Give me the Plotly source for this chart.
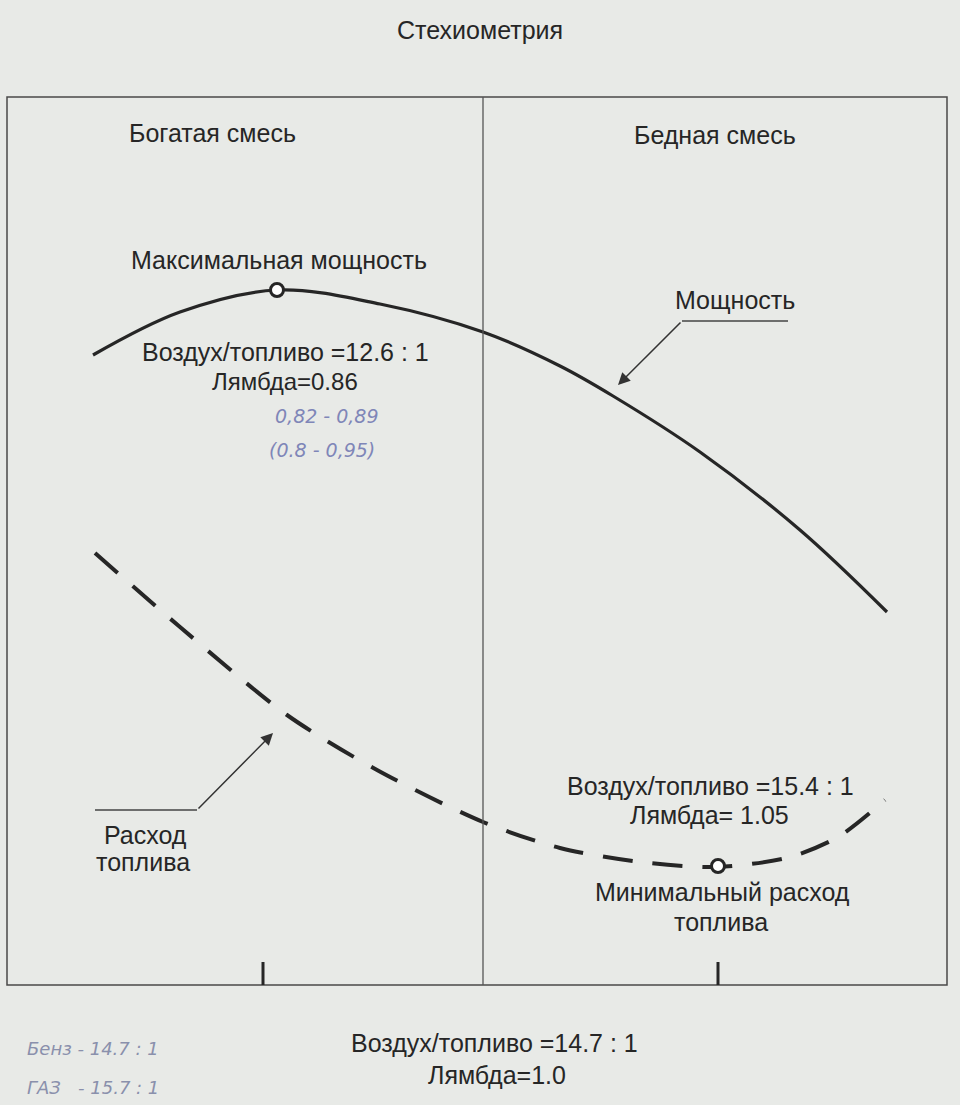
import plotly.graph_objects as go

# Diagram coordinates (schematic units; x grows to leaner mixture, y grows downward)
power_x = [93, 180, 277, 380, 483, 560, 613, 700, 800, 887]
power_y = [355, 312, 290, 304, 332, 366, 396, 452, 530, 612]

fuel_x = [95, 180, 287, 377, 483, 560, 640, 718, 790, 838, 885]
fuel_y = [553, 627, 715, 770, 822, 848, 862, 867, 857, 837, 800]

max_power_pt = (277, 290)
min_fuel_pt = (718, 866)

stoich_x = 483
tick_x = [263, 718]

box = dict(x0=7, x1=947, y0=97, y1=985)

INK = "#262626"
BG = "#e8eae7"
PEN = "#7f86b8"
PEN2 = "#8a90ac"

fig = go.Figure()

fig.add_trace(go.Scatter(x=power_x, y=power_y, mode="lines",
                         line=dict(color=INK, width=3.2, shape="spline", smoothing=1.0),
                         hoverinfo="skip", showlegend=False))
fig.add_trace(go.Scatter(x=fuel_x, y=fuel_y, mode="lines",
                         line=dict(color=INK, width=4, shape="spline", smoothing=0.8, dash="30px,20px"),
                         hoverinfo="skip", showlegend=False))
fig.add_trace(go.Scatter(x=[max_power_pt[0], min_fuel_pt[0]], y=[max_power_pt[1], min_fuel_pt[1]],
                         mode="markers",
                         marker=dict(size=13, color="white", line=dict(color=INK, width=3)),
                         hoverinfo="skip", showlegend=False))

# leader lines (horizontal parts)
fig.add_trace(go.Scatter(x=[682, 788], y=[321, 321], mode="lines", line=dict(color="#444", width=1.5),
                         hoverinfo="skip", showlegend=False))
fig.add_trace(go.Scatter(x=[95, 197], y=[810, 810], mode="lines", line=dict(color="#444", width=1.5),
                         hoverinfo="skip", showlegend=False))

shapes = [
    dict(type="rect", xref="x", yref="y", x0=box["x0"], x1=box["x1"], y0=box["y0"], y1=box["y1"],
         line=dict(color="#4a4a4a", width=1.5)),
    dict(type="line", xref="x", yref="y", x0=stoich_x, x1=stoich_x, y0=box["y0"], y1=box["y1"],
         line=dict(color="#555", width=1.3)),
]
for tx in tick_x:
    shapes.append(dict(type="line", xref="x", yref="y", x0=tx, x1=tx, y0=962, y1=985,
                       line=dict(color=INK, width=3)))

F = "Liberation Sans, Arial, sans-serif"

def txt(x, y, s, size=25, color=INK, font=F, style="normal"):
    return dict(x=x, y=y, xref="x", yref="y", text=s, showarrow=False,
                font=dict(family=font, size=size, color=color, style=style),
                xanchor="center", yanchor="middle")

annotations = [
    txt(480, 30, "Стехиометрия"),
    txt(212, 133, "Богатая смесь"),
    txt(715, 135, "Бедная смесь"),
    txt(279, 260, "Максимальная мощность"),
    txt(285, 352, "Воздух/топливо =12.6 : 1"),
    txt(285, 381, "Лямбда=0.86", 24),
    txt(327, 416, "0,82 - 0,89", 19, PEN, "DejaVu Sans", "italic"),
    txt(322, 450, "(0.8 - 0,95)", 19, PEN, "DejaVu Sans", "italic"),
    txt(735, 300, "Мощность"),
    txt(710, 786, "Воздух/топливо =15.4 : 1"),
    txt(709, 815, "Лямбда= 1.05"),
    txt(722, 892, "Минимальный расход"),
    txt(721, 922, "топлива"),
    txt(145, 835, "Расход"),
    txt(143, 862, "топлива"),
    txt(494, 1043, "Воздух/топливо =14.7 : 1"),
    txt(497, 1075, "Лямбда=1.0"),
    txt(93, 1048, "Бенз - 14.7 : 1", 18, PEN2, "DejaVu Sans", "italic"),
    txt(93, 1087, "ГАЗ   - 15.7 : 1", 18, PEN2, "DejaVu Sans", "italic"),
    # arrows
    dict(x=618, y=385, ax=682, ay=321, xref="x", yref="y", axref="x", ayref="y", text="",
         showarrow=True, arrowhead=2, arrowsize=1.6, arrowwidth=1.5, arrowcolor="#333"),
    dict(x=273, y=733, ax=197, ay=810, xref="x", yref="y", axref="x", ayref="y", text="",
         showarrow=True, arrowhead=2, arrowsize=1.6, arrowwidth=1.5, arrowcolor="#333"),
]

fig.update_layout(
    width=960, height=1105,
    margin=dict(l=0, r=0, t=0, b=0),
    paper_bgcolor=BG, plot_bgcolor=BG,
    xaxis=dict(range=[0, 960], visible=False, fixedrange=True),
    yaxis=dict(range=[1105, 0], visible=False, fixedrange=True),
    shapes=shapes, annotations=annotations,
    showlegend=False,
)

fig.write_html(
    "out.html",
    config={"displayModeBar": False},
    post_script="document.body.style.margin='0';document.body.style.overflow='hidden';"
                "document.body.style.background='" + BG + "';",
)
